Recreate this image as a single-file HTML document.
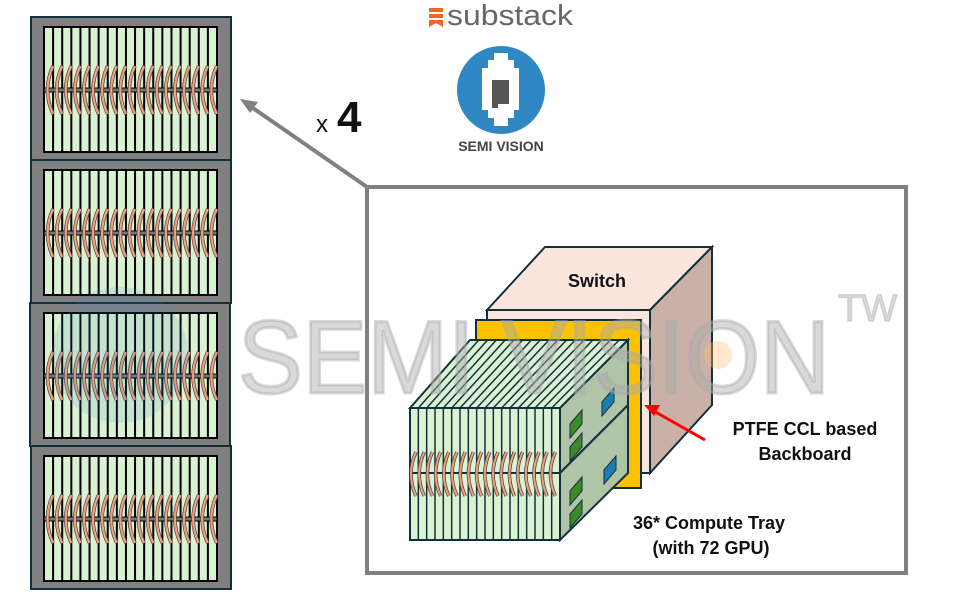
<!DOCTYPE html>
<html><head><meta charset="utf-8"><style>
html,body{margin:0;padding:0;background:#fff;width:953px;height:607px;overflow:hidden}
svg{display:block}
</style></head><body>
<svg id="s" width="953" height="607" viewBox="0 0 953 607" xmlns="http://www.w3.org/2000/svg" font-family="Liberation Sans, sans-serif">
<g id="rack"></g>
<line x1="367" y1="187" x2="250" y2="106" stroke="#808080" stroke-width="4"/>
<polygon points="240,99 258,102 250,113" fill="#808080"/>
<text x="316" y="132" font-size="24" fill="#111">x</text>
<text x="337" y="132" font-size="44" font-weight="bold" fill="#111">4</text>
<rect x="429" y="8" width="14" height="4" fill="#f26522"/>
<rect x="429" y="14" width="14" height="4" fill="#f26522"/>
<polygon points="429,20 443,20 443,27 436,23 429,27" fill="#f26522"/>
<text x="447" y="25" font-size="29" fill="#666" textLength="126" lengthAdjust="spacingAndGlyphs">substack</text>
<circle cx="501" cy="90" r="44" fill="#2f87c3"/>
<polygon points="494,53 508,53 508,60 514,60 514,68 519,68 519,110 514,110 514,118 508,118 508,126 494,126 494,118 488,118 488,110 482,110 482,68 488,68 488,60 494,60" fill="#fff"/>
<polygon points="492,80 509,80 509,104 498,104 498,108 492,108" fill="#555"/>
<text x="501" y="151" font-size="14" font-weight="bold" fill="#444" text-anchor="middle">SEMI VISION</text>
<rect x="367" y="187" width="539" height="386" fill="none" stroke="#808080" stroke-width="4"/>
<polygon points="487,310 545,247 712,247 650,310" fill="#fbe5dc" stroke="#12303a" stroke-width="2"/>
<polygon points="650,310 712,247 712,405 650,473" fill="#c9b1a8" stroke="#12303a" stroke-width="2"/>
<rect x="487" y="310" width="163" height="163" fill="#fbe5dc" stroke="#12303a" stroke-width="2"/>
<text x="597" y="287" font-size="18" font-weight="bold" text-anchor="middle" fill="#111">Switch</text>
<rect x="476" y="320" width="165" height="168" fill="#ffc000" stroke="#12303a" stroke-width="2"/>
<g id="tray"></g>
<text x="238" y="393" font-size="104" fill="#aaa" fill-opacity="0.45" stroke="#aaa" stroke-opacity="0.45" stroke-width="3" textLength="592" lengthAdjust="spacingAndGlyphs">SEMI VISION</text>
<text x="838" y="321" font-size="38" fill="#bbb" fill-opacity="0.55" stroke="#bbb" stroke-opacity="0.55" stroke-width="1.5">TW</text>
<circle cx="120" cy="355" r="68" fill="#2f87c3" fill-opacity="0.13"/>
<circle cx="718" cy="355" r="14" fill="#ffc070" fill-opacity="0.35"/>
<line x1="705" y1="440" x2="652" y2="410" stroke="#ff0000" stroke-width="3"/>
<polygon points="644,405 660,405 654,416" fill="#ff0000"/>
<g font-size="18" font-weight="bold" fill="#111" text-anchor="middle">
<text x="805" y="435">PTFE CCL based</text>
<text x="805" y="460">Backboard</text>
<text x="709" y="529">36* Compute Tray</text>
<text x="711" y="554">(with 72 GPU)</text>
</g>
</svg>
<script>
var NS="http://www.w3.org/2000/svg";
function el(p,t,a){var e=document.createElementNS(NS,t);for(var k in a)e.setAttribute(k,a[k]);p.appendChild(e);return e;}
var rack=document.getElementById("rack");
[17,160,303,446].forEach(function(y0,i){
  var x0=i==2?30:31;
  el(rack,"rect",{x:x0,y:y0,width:200,height:143,fill:"#808080",stroke:"#12303a","stroke-width":2});
  el(rack,"rect",{x:44,y:y0+10,width:173,height:125,fill:"#daf2d3",stroke:"#000","stroke-width":2});
  for(var k=1;k<19;k++){var x=44+k*173/19;el(rack,"line",{x1:x,y1:y0+10,x2:x,y2:y0+135,stroke:"#000","stroke-width":2});}
  var cy=y0+73;
  el(rack,"rect",{x:44,y:cy-2,width:173,height:4,fill:"#777",stroke:"#000","stroke-width":1});
  for(var k=0;k<19;k++){var x=47+k*9.1;
    var d="M"+(x+6)+","+(cy-24)+" Q"+(x-5)+","+cy+" "+(x+6)+","+(cy+24);
    el(rack,"path",{d:d,fill:"none",stroke:"#444","stroke-width":3.6});
    el(rack,"path",{d:d,fill:"none",stroke:"#f4a07a","stroke-width":2.2});}
});
var t=document.getElementById("tray");
el(t,"polygon",{points:"410,408 470,340 628,340 560,408",fill:"#daf2d3",stroke:"#12303a","stroke-width":2});
for(var k=1;k<18;k++){var x=410+k*150/18;el(t,"line",{x1:x,y1:408,x2:x+60+(k*8/18),y2:340,stroke:"#12303a","stroke-width":1.5});}
el(t,"polygon",{points:"560,408 628,340 628,405 560,473",fill:"#b0c4a8",stroke:"#12303a","stroke-width":2});
el(t,"polygon",{points:"560,473 628,405 628,473 560,540",fill:"#b0c4a8",stroke:"#12303a","stroke-width":2});
[[570,410],[570,433],[602,388],[570,477],[570,500],[604,456]].forEach(function(p,i){
  var blue=(i==2||i==5);
  el(t,"polygon",{points:p[0]+","+(p[1]+14)+" "+(p[0]+12)+","+p[1]+" "+(p[0]+12)+","+(p[1]+14)+" "+p[0]+","+(p[1]+28),fill:blue?"#1a7fb0":"#3b8a2a",stroke:"#12303a","stroke-width":1});
});
el(t,"rect",{x:410,y:408,width:150,height:132,fill:"#daf2d3",stroke:"#12303a","stroke-width":2});
for(var k=1;k<18;k++){var x=410+k*150/18;el(t,"line",{x1:x,y1:408,x2:x,y2:540,stroke:"#12303a","stroke-width":1.5});}
el(t,"line",{x1:410,y1:473,x2:560,y2:473,stroke:"#12303a","stroke-width":2});
for(var k=0;k<18;k++){var x=410+k*8.2;var cy=474;
  var d="M"+(x+6)+","+(cy-22)+" Q"+(x-4)+","+cy+" "+(x+6)+","+(cy+22);
  el(t,"path",{d:d,fill:"none",stroke:"#444","stroke-width":3.5});
  el(t,"path",{d:d,fill:"none",stroke:"#f4a07a","stroke-width":2});}
</script>
</body></html>
